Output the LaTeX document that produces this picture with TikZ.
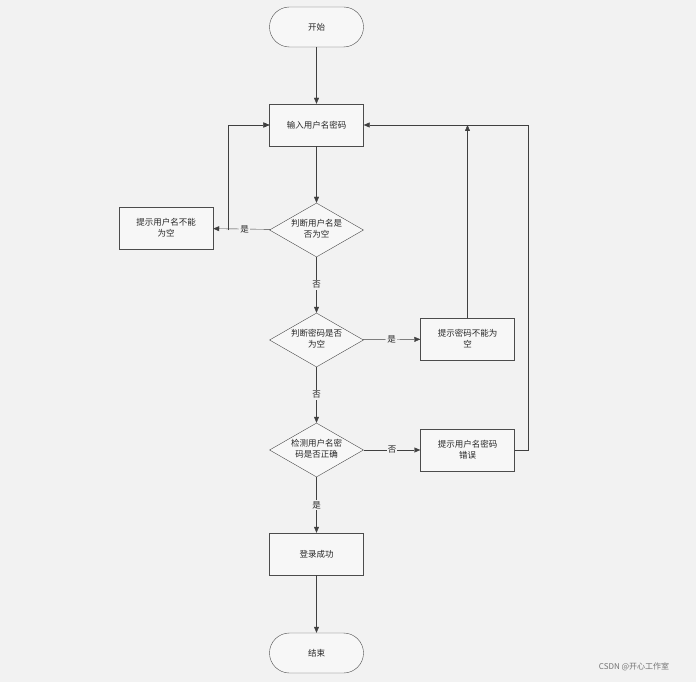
\documentclass[tikz,border=0pt]{standalone}
\usepackage{fontspec}
\newfontfamily\cjk{Noto Sans CJK SC}
\usetikzlibrary{shapes.geometric,arrows.meta}
\begin{document}
\begin{tikzpicture}[x=1pt,y=-1pt,
  every node/.style={font=\cjk\fontsize{8.5}{11}\selectfont,text=black!85},
  box/.style={draw=black!70,fill=white!97!black,minimum width=94pt,minimum height=42pt,align=center,inner sep=1pt},
  pill/.style={box,rounded corners=20pt,minimum height=40pt},
  dia/.style={draw=black!70,fill=white!97!black,diamond,minimum width=94pt,minimum height=54pt,inner sep=0pt},
  dtext/.style={align=center,inner sep=0pt},
  lbl/.style={fill=white!95!black,inner sep=1pt},
  arr/.style={draw=black!75,-{Triangle[length=6pt,width=5pt]}},
  ln/.style={draw=black!75}]
\fill[white!95!black] (0,0) rectangle (696,682);
\useasboundingbox (0,0) rectangle (696,682);
\node[pill] (s) at (316.5,27) {开始};
\node[box] (in) at (316.5,125) {输入用户名密码};
\node[dia] (d1) at (316.5,230) {};
\node[dtext] (t1) at (316.5,229) {判断用户名是\\否为空};
\node[box] (b1) at (166,228) {提示用户名不能\\为空};
\node[dia] (d2) at (316.5,340) {};
\node[dtext] (t2) at (316.5,339) {判断密码是否\\为空};
\node[box] (b2) at (467.5,339) {提示密码不能为\\空};
\node[dia] (d3) at (316.5,450) {};
\node[dtext] (t3) at (316.5,449) {检测用户名密\\码是否正确};
\node[box] (b3) at (467.5,450) {提示用户名密码\\错误};
\node[box] (ok) at (316.5,554) {登录成功};
\node[pill] (e) at (316.5,653) {结束};
\coordinate (c1) at (228,230);
\coordinate (c2) at (467.5,125);
\coordinate (c3) at (528,450);
\coordinate (c4) at (528,125);
\draw[arr] (s) -- (in);
\draw[arr] (in) -- (d1);
\draw[arr] (d1) -- node[lbl,pos=0.45]{是} (b1);
\draw[ln] (c1) |- (in.west) [arr];
\draw[arr] (228,125) -- (in.west);
\draw[ln] (c1) -- (228,125);
\draw[arr] (d1) -- node[lbl,pos=0.5]{否} (d2);
\draw[arr] (d2) -- node[lbl,pos=0.5]{是} (b2);
\draw[arr] (b2) -- (c2);
\draw[arr] (d2) -- node[lbl,pos=0.5]{否} (d3);
\draw[arr] (d3) -- node[lbl,pos=0.5]{否} (b3);
\draw[ln] (b3) -- (c3) -- (c4);
\draw[arr] (c4) -- (in.east);
\draw[arr] (d3) -- node[lbl,pos=0.5]{是} (ok);
\draw[arr] (ok) -- (e);
\node[font=\cjk\fontsize{8}{10}\selectfont,text=black!55] (wm) at (634,667) {CSDN @开心工作室};
\end{tikzpicture}
\end{document}
